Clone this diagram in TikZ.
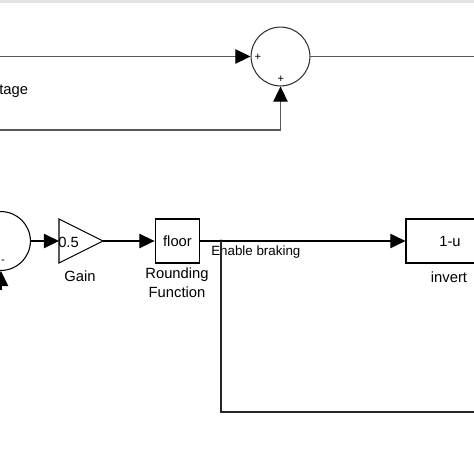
\documentclass[tikz,border=0pt]{standalone}
\usepackage{fontspec}
\setmainfont{Liberation Sans}
\usepackage{tikz}
\usetikzlibrary{arrows.meta}
\tikzset{sig/.style={line width=0.75pt, -{Triangle[length=0.38cm,width=0.36cm,color=black]}},
 wire/.style={line width=0.75pt},
 sumblock/.style={circle, draw, line width=0.75pt, minimum size=1.47cm, inner sep=0pt},
 blockbox/.style={rectangle, draw, line width=0.75pt, minimum width=1.12cm, minimum height=1.1cm, inner sep=0pt},
 lbl/.style={font=\fontsize{10.5}{13.5}\selectfont, inner sep=0pt},
 sign/.style={font=\fontsize{8}{9}\selectfont, inner sep=0pt},
 }

\begin{document}
\begin{tikzpicture}[x=0.025cm, y=-0.025cm]
        \useasboundingbox (0,0) rectangle (474,474);
        \clip (0,0) rectangle (474,474);
        \fill[gray!22] (0,0) rectangle (474,2.5);

        % upper loop
        \node[sumblock, draw=black!80] (sumtop) at (280.5,56.5) {};
        \node[sign] (ptopa) at (258,57) {+};
        \node[sign] (ptopb) at (281,79) {+};
        \coordinate (intop) at (0,56.5);
        \coordinate (outtop) at (474,56.5);
        \coordinate (fbtop) at (0,130);
        \draw[sig, black!65] (intop) -- (sumtop.west);
        \draw[wire, black!65] (sumtop.east) -- (outtop);
        \draw[sig, black!65] (fbtop) -| (sumtop.south);
        \node[lbl, anchor=west] (volt) at (-1,91) {tage};

        % lower chain
        \node[sumblock] (sumlow) at (1,241) {};
        \node[sign] (mlow) at (3,262) {-};
        \coordinate (inlow) at (1,290);
        \draw[sig] (inlow) -- (sumlow.south);

        \coordinate (gainin) at (59,241);
        \coordinate (gainout) at (103,241);
        \draw[wire] (59,219) -- (gainout) -- (59,263) -- cycle;
        \node[lbl, anchor=west] (gainval) at (58,242) {0.5};
        \node[lbl] (gainlbl) at (80,276) {Gain};
        \draw[sig] (sumlow.east) -- (gainin);

        \node[blockbox] (floor) at (177.5,241) {\fontsize{10.5}{13.5}\selectfont floor};
        \node[lbl, align=center, anchor=north] (floorlbl) at (177,268) {Rounding\\Function};
        \draw[sig] (gainout) -- (floor.west);

        \node[blockbox, minimum width=2.2cm] (invert) at (450,241) {\fontsize{10.5}{13.5}\selectfont 1-u};
        \node[lbl] (invertlbl) at (449,277) {invert};
        \coordinate (junc) at (221,241);
        \draw[sig] (floor.east) -- (invert.west);
        \fill (junc) circle (1.6);
        \node[lbl, font=\fontsize{9.5}{11}\selectfont, anchor=west] (brake) at (211,252) {Enable braking};

        \coordinate (brkout) at (474,412);
        \draw[line width=1pt, black!85] (junc) |- (brkout);
    \end{tikzpicture}
\end{document}
